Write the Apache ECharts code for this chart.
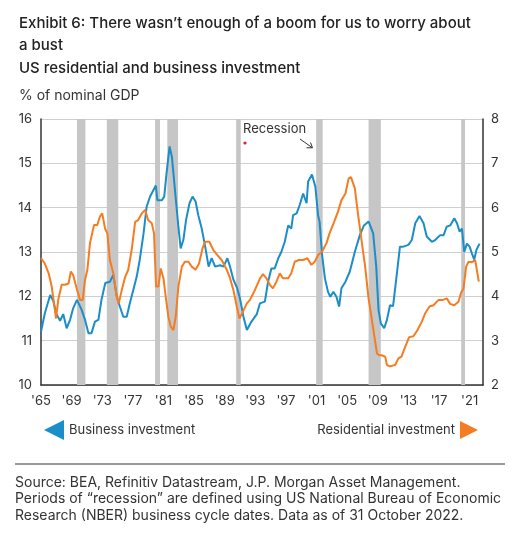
<!DOCTYPE html>
<html>
<head>
<meta charset="utf-8">
<script src="https://cdn.jsdelivr.net/npm/echarts@6/dist/echarts.min.js"></script>
<style>
html,body{margin:0;padding:0;background:#fff;}
#chart{width:516px;height:553px;}
</style>
</head>
<body>
<div id="chart"></div>
<script>
// Business investment, % of nominal GDP (left axis): [year, value]
const businessInvestment = [[1965.0,11.2],[1965.5,11.62],[1966.2,12.03],[1966.6,11.9],[1967.0,11.6],[1967.5,11.45],[1967.9,11.6],[1968.35,11.28],[1968.8,11.47],[1969.2,11.73],[1969.7,11.92],[1970.3,11.7],[1970.75,11.47],[1971.2,11.17],[1971.6,11.17],[1972.05,11.43],[1972.5,11.47],[1972.9,11.92],[1973.4,12.3],[1974.0,12.33],[1974.45,12.48],[1974.9,12.0],[1975.3,11.77],[1975.75,11.54],[1976.2,11.54],[1976.6,11.84],[1977.05,12.14],[1977.5,12.44],[1977.9,12.82],[1978.4,13.42],[1978.8,14.02],[1979.25,14.25],[1979.7,14.4],[1980.0,14.5],[1980.2,14.17],[1980.8,14.17],[1981.1,14.25],[1981.4,14.77],[1981.8,15.38],[1982.1,15.15],[1982.5,14.4],[1982.95,13.57],[1983.25,13.08],[1983.6,13.27],[1983.95,13.72],[1984.4,14.1],[1984.8,14.25],[1985.2,14.14],[1985.55,13.83],[1986.0,13.53],[1986.45,13.12],[1986.9,12.67],[1987.3,12.86],[1987.75,12.67],[1988.4,12.7],[1988.85,12.67],[1989.35,12.86],[1989.7,12.67],[1990.15,12.37],[1990.6,12.2],[1991.0,11.95],[1991.45,11.54],[1991.9,11.24],[1992.5,11.43],[1993.2,11.6],[1993.6,11.84],[1994.25,11.88],[1994.67,12.33],[1995.1,12.63],[1995.54,12.63],[1996.0,12.86],[1996.4,13.0],[1996.85,13.23],[1997.3,13.6],[1997.7,13.53],[1997.94,13.83],[1998.4,13.87],[1998.8,14.06],[1999.25,14.32],[1999.7,14.1],[1999.9,14.59],[2000.4,14.75],[2000.85,14.47],[2001.2,13.83],[2001.4,13.68],[2001.73,12.93],[2002.1,12.4],[2002.5,12.1],[2002.8,11.99],[2003.2,12.1],[2003.6,11.99],[2003.95,11.77],[2004.25,12.18],[2004.78,12.33],[2005.35,12.56],[2006.0,13.0],[2006.66,13.38],[2007.2,13.6],[2007.8,13.69],[2008.4,13.42],[2008.8,12.67],[2009.1,11.69],[2009.4,11.39],[2009.84,11.28],[2010.2,11.47],[2010.6,11.8],[2011.0,11.78],[2011.5,12.52],[2011.9,13.12],[2012.35,13.12],[2013.0,13.16],[2013.45,13.27],[2013.9,13.65],[2014.45,13.81],[2014.98,13.65],[2015.4,13.35],[2016.07,13.23],[2016.5,13.27],[2017.16,13.38],[2017.6,13.38],[2018.0,13.57],[2018.47,13.6],[2019.0,13.76],[2019.35,13.65],[2019.7,13.46],[2020.0,13.53],[2020.3,13.0],[2020.65,13.19],[2021.0,13.12],[2021.3,12.97],[2021.6,12.83],[2021.9,13.05],[2022.3,13.19]];

// Residential investment, % of nominal GDP (right axis): [year, value]
const residentialInvestment = [[1965.0,4.86],[1965.5,4.74],[1966.0,4.52],[1966.4,4.22],[1966.7,3.84],[1966.96,3.5],[1967.25,3.92],[1967.7,4.26],[1968.1,4.26],[1968.6,4.29],[1968.9,4.56],[1969.2,4.48],[1969.66,4.18],[1970.1,3.92],[1970.45,3.92],[1970.75,4.37],[1971.06,4.6],[1971.4,5.2],[1971.93,5.61],[1972.36,5.61],[1972.7,5.8],[1973.0,5.87],[1973.37,5.53],[1973.67,5.42],[1974.0,4.82],[1974.45,4.52],[1974.9,3.99],[1975.15,3.84],[1975.55,4.14],[1976.0,4.44],[1976.4,4.6],[1976.85,5.05],[1977.3,5.68],[1977.7,5.72],[1978.16,5.87],[1978.6,5.95],[1979.0,5.72],[1979.47,5.65],[1979.77,5.42],[1980.03,4.22],[1980.34,4.22],[1980.64,4.63],[1981.0,4.41],[1981.3,3.99],[1981.64,3.54],[1981.95,3.32],[1982.3,3.24],[1982.6,3.54],[1982.95,4.22],[1983.4,4.67],[1983.8,4.78],[1984.26,4.78],[1984.7,4.67],[1985.2,4.6],[1985.65,4.74],[1986.1,5.08],[1986.44,5.23],[1987.0,5.23],[1987.5,5.05],[1988.05,4.93],[1988.6,4.82],[1989.27,4.6],[1989.7,4.41],[1990.14,4.14],[1990.58,3.77],[1990.93,3.5],[1991.36,3.65],[1991.9,3.84],[1992.3,3.92],[1992.97,4.15],[1993.6,4.4],[1994.0,4.5],[1994.44,4.41],[1994.9,4.26],[1995.3,4.18],[1995.76,4.33],[1996.2,4.52],[1996.6,4.41],[1997.3,4.41],[1997.7,4.52],[1998.15,4.78],[1998.68,4.82],[1999.25,4.82],[1999.8,4.86],[2000.33,4.71],[2000.76,4.78],[2001.2,4.93],[2001.73,5.01],[2002.3,5.2],[2002.7,5.42],[2003.3,5.68],[2003.8,5.91],[2004.26,6.17],[2004.78,6.32],[2005.2,6.66],[2005.5,6.69],[2006.0,6.44],[2006.44,5.83],[2006.96,5.16],[2007.35,4.67],[2007.8,3.95],[2008.2,3.5],[2008.5,3.16],[2008.9,2.71],[2009.2,2.67],[2009.5,2.67],[2009.97,2.64],[2010.2,2.45],[2010.6,2.42],[2011.27,2.45],[2011.7,2.6],[2012.1,2.64],[2012.58,2.86],[2013.1,3.08],[2013.66,3.1],[2014.2,3.24],[2014.76,3.43],[2015.2,3.62],[2015.76,3.77],[2016.28,3.8],[2016.94,3.92],[2017.5,3.92],[2018.03,3.95],[2018.46,3.83],[2018.99,3.8],[2019.55,3.88],[2019.86,4.07],[2020.2,4.18],[2020.55,4.67],[2020.86,4.78],[2021.3,4.77],[2021.73,4.82],[2021.95,4.78],[2022.2,4.33]];

// NBER recession periods as drawn: [start, end] in fractional years
const recessions = [[1969.7,1970.8],[1973.6,1975.1],[1979.9,1980.55],[1981.5,1982.9],[1990.5,1991.1],[2000.95,2001.8],[2007.8,2009.4],[2019.9,2020.4]];

// Tick label years
const yearTicks = [1965,1969,1973,1977,1981,1985,1989,1993,1997,2001,2005,2009,2013,2017,2021];

const BLUE = '#1b8dc8';
const ORANGE = '#f57c21';
const FONT = 'Inter, "Noto Sans", sans-serif';

const chart = echarts.init(document.getElementById('chart'), null, {renderer: 'canvas'});

const option = {
  animation: false,
  textStyle: {fontFamily: FONT},
  title: [
    {text: 'Exhibit 6: There wasn\u2019t enough of a boom for us to worry about\na bust', left: 14, top: 7,
     textStyle: {fontSize: 15, fontWeight: 500, color: '#222', lineHeight: 22, fontFamily: FONT}},
    {text: 'US residential and business investment', left: 14, top: 56,
     textStyle: {fontSize: 15, fontWeight: 500, color: '#222', fontFamily: FONT}},
    {text: '% of nominal GDP', left: 14, top: 84,
     textStyle: {fontSize: 14, fontWeight: 400, color: '#333', fontFamily: FONT}}
  ],
  legend: [
    {data: ['Business investment'], left: 39, top: 415, itemWidth: 20, itemHeight: 20, itemGap: 6,
     icon: 'path://M0,10 L20,0 L20,20 Z',
     textStyle: {fontSize: 13, color: '#333', fontFamily: FONT}},
    {data: ['Residential investment'], right: 33, top: 416, align: 'right', itemWidth: 18, itemHeight: 18,
     icon: 'path://M20,10 L0,0 L0,20 Z',
     textStyle: {fontSize: 13, color: '#333', fontFamily: FONT}}
  ],
  grid: {left: 41, right: 33, top: 119, bottom: 168, containLabel: false},
  xAxis: {
    type: 'value', min: 1965, max: 2022.75, interval: 4,
    axisLine: {show: true, lineStyle: {color: '#333', width: 1.5}},
    axisTick: {show: false},
    splitLine: {show: false},
    axisLabel: {
      color: '#333', fontSize: 13, margin: 10, fontFamily: FONT,
      formatter: function (v) { return yearTicks.indexOf(v) >= 0 ? '\'' + String(v).slice(2) : ''; }
    }
  },
  yAxis: [
    {type: 'value', min: 10, max: 16, interval: 1, position: 'left',
     axisLine: {show: true, lineStyle: {color: '#333', width: 1.5}},
     axisTick: {show: false},
     splitLine: {show: true, lineStyle: {color: '#cfcfcf', width: 1}},
     axisLabel: {color: '#333', fontSize: 13, margin: 9, fontFamily: FONT}},
    {type: 'value', min: 2, max: 8, interval: 1, position: 'right',
     axisLine: {show: true, lineStyle: {color: '#333', width: 1.5}},
     axisTick: {show: false},
     splitLine: {show: false},
     axisLabel: {color: '#333', fontSize: 13, margin: 8, fontFamily: FONT}}
  ],
  series: [
    {name: 'Business investment', type: 'line', yAxisIndex: 0, data: businessInvestment,
     showSymbol: false, symbol: 'none', lineStyle: {color: BLUE, width: 2}, itemStyle: {color: BLUE}, z: 3,
     markArea: {silent: true, itemStyle: {color: '#c6c6c6'},
       data: recessions.map(function (r) { return [{xAxis: r[0]}, {xAxis: r[1]}]; })}},
    {name: 'Residential investment', type: 'line', yAxisIndex: 1, data: residentialInvestment,
     showSymbol: false, symbol: 'none', lineStyle: {color: ORANGE, width: 2}, itemStyle: {color: ORANGE}, z: 4}
  ],
  graphic: [
    {type: 'text', left: 243, top: 123, style: {text: 'Recession', fontSize: 13, fill: '#333', fontFamily: FONT}, z: 10},
    {type: 'circle', shape: {cx: 245, cy: 143, r: 1.6}, style: {fill: '#e0202a'}, z: 10},
    {type: 'line', shape: {x1: 300, y1: 139, x2: 312, y2: 147.5}, style: {stroke: '#333', lineWidth: 1}, z: 10},
    {type: 'polyline', shape: {points: [[306.5, 147.8], [312.5, 147.8], [310.5, 142.5]]}, style: {stroke: '#333', lineWidth: 1, fill: null}, z: 10},
    {type: 'line', shape: {x1: 15, y1: 464, x2: 505, y2: 464}, style: {stroke: '#333', lineWidth: 1}},
    {type: 'text', left: 15, top: 474, style: {
      text: 'Source: BEA, Refinitiv Datastream, J.P. Morgan Asset Management.\nPeriods of \u201crecession\u201d are defined using US National Bureau of Economic\nResearch (NBER) business cycle dates. Data as of 31 October 2022.',
      fontSize: 14, lineHeight: 16.7, fill: '#333', fontFamily: FONT}}
  ]
};

chart.setOption(option);
</script>
</body>
</html>
